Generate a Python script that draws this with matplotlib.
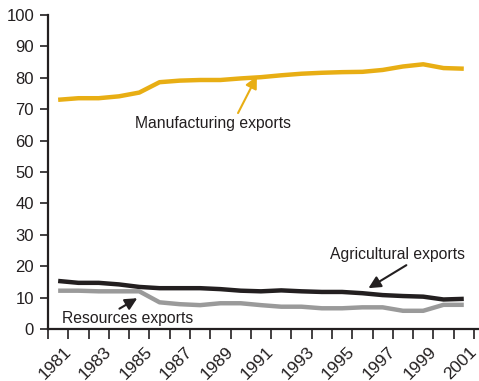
import numpy as np
import matplotlib
matplotlib.use("Agg")
import matplotlib.pyplot as plt
import matplotlib.transforms as mtransforms

plt.rcParams['font.family'] = ['Liberation Sans', 'DejaVu Sans']

# Share of exports (%) by year
years = list(range(1981, 2002))
manufacturing = [73.0, 73.5, 73.5, 74.1, 75.3, 78.6, 79.1, 79.3, 79.3, 79.8, 80.2,
                 80.8, 81.3, 81.6, 81.8, 81.9, 82.5, 83.6, 84.3, 83.1, 82.9]
agricultural = [15.3, 14.7, 14.7, 14.2, 13.4, 13.0, 13.0, 13.0, 12.7, 12.2, 12.0,
                12.3, 12.0, 11.8, 11.8, 11.4, 10.8, 10.5, 10.3, 9.4, 9.6]
resources = [12.2, 12.2, 12.0, 12.0, 12.0, 8.5, 7.9, 7.6, 8.2, 8.2, 7.6,
             7.1, 7.1, 6.6, 6.6, 6.9, 6.9, 5.8, 5.8, 7.7, 7.7]
year_labels = [str(y) for y in years[::2]]

fig = plt.figure(figsize=(4.79, 3.81), dpi=100)
ax = fig.add_axes([48 / 479, 52 / 381, 431 / 479, 314 / 381])

ax.plot(years, manufacturing, color='#E8AE14', lw=3.2, solid_capstyle='butt')
ax.plot(years, agricultural, color='#231F20', lw=3.2, solid_capstyle='butt')
ax.plot(years, resources, color='#9A9A9A', lw=3.2, solid_capstyle='butt')

ax.set_xlim(1980.5, 2001.75)
ax.set_ylim(0, 100)
ax.set_yticks(range(0, 101, 10))
ax.tick_params(axis='y', labelsize=12, length=6, width=1.2, color='#231F20', pad=4,
               labelcolor='#231F20')

# tick marks between years, labels on odd years
ax.set_xticks(np.arange(1980.5, 2001.6, 1.0), minor=True)
ax.set_xticks(years[::2])
ax.set_xticklabels(year_labels, rotation=45, ha='right', va='top',
                   rotation_mode='anchor', fontsize=12.5, color='#231F20')
ax.tick_params(axis='x', which='major', length=0, pad=11)
ax.tick_params(axis='x', which='minor', length=7, width=1.2, color='#231F20')
shift = mtransforms.ScaledTranslation(5 / 100, 0, fig.dpi_scale_trans)
for lbl in ax.get_xticklabels():
    lbl.set_transform(lbl.get_transform() + shift)

for s in ['top', 'right']:
    ax.spines[s].set_visible(False)
for s in ['left', 'bottom']:
    ax.spines[s].set_linewidth(1.6)
    ax.spines[s].set_color('#231F20')

ax.annotate('Manufacturing exports', xy=(1990.8, 80.5), xytext=(1984.8, 65.5),
            fontsize=11.3, color='#231F20', ha='left', va='center',
            arrowprops=dict(arrowstyle='-|>', color='#E8AE14', lw=1.5,
                            mutation_scale=18, shrinkA=0, shrinkB=0,
                            relpos=(0.65, 1.0)))
ax.annotate('Agricultural exports', xy=(1996.3, 13.0), xytext=(1994.4, 23.6),
            fontsize=11.3, color='#231F20', ha='left', va='center',
            arrowprops=dict(arrowstyle='-|>', color='#231F20', lw=1.5,
                            mutation_scale=18, shrinkA=0, shrinkB=0,
                            relpos=(0.6, 0.0)))
ax.annotate('Resources exports', xy=(1984.9, 9.8), xytext=(1981.2, 3.2),
            fontsize=11.3, color='#231F20', ha='left', va='center',
            arrowprops=dict(arrowstyle='-|>', color='#231F20', lw=1.5,
                            mutation_scale=18, shrinkA=0, shrinkB=0,
                            relpos=(0.4, 1.0)))

fig.savefig('out.png', dpi=100)
